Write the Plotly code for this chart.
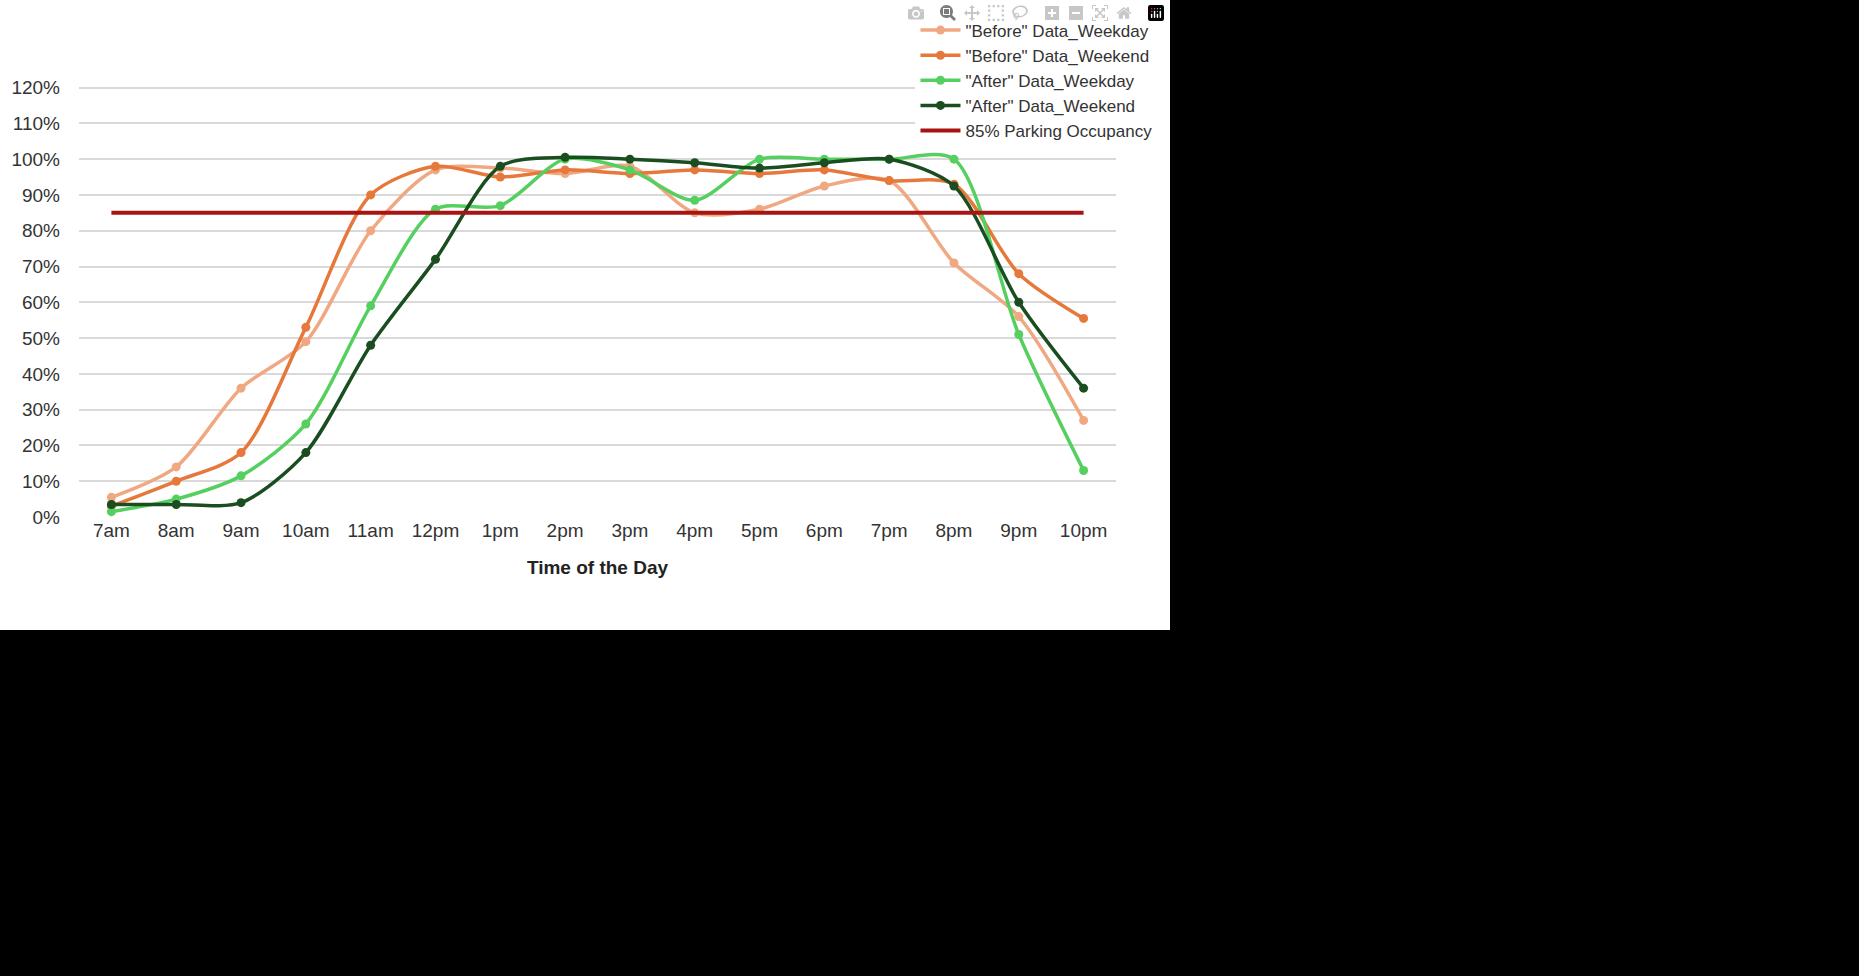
import plotly.graph_objects as go

hours = ["7am","8am","9am","10am","11am","12pm","1pm","2pm","3pm","4pm","5pm","6pm","7pm","8pm","9pm","10pm"]
before_weekday = [5.5,14,36,49,80,97,97.5,96,98,85,86,92.5,94,71,56,27]
before_weekend = [3,10,18,53,90,98,95,97,96,97,96,97,94,93,68,55.5]
after_weekday = [1.5,5,11.5,26,59,86,87,100,97,88.5,100,100,100,100,51,13]
after_weekend = [3.5,3.5,4,18,48,72,98,100.5,100,99,97.5,99,100,92.5,60,36]
threshold = [85]*len(hours)

series = [
    ('"Before" Data_Weekday', before_weekday, "#f0a882"),
    ('"Before" Data_Weekend', before_weekend, "#e5783a"),
    ('"After" Data_Weekday', after_weekday, "#55d060"),
    ('"After" Data_Weekend', after_weekend, "#1a4d1f"),
]
fig = go.Figure()
for name, vals, col in series:
    fig.add_trace(go.Scatter(x=hours, y=vals, name=name, mode="lines+markers",
                             line=dict(color=col, width=3.5, shape="spline", smoothing=0.8),
                             marker=dict(size=9, color=col)))
fig.add_trace(go.Scatter(x=hours, y=threshold, name="85% Parking Occupancy", mode="lines",
                         line=dict(color="#a81414", width=4)))

fig.update_layout(
    width=1170, height=630, paper_bgcolor="white", plot_bgcolor="white",
    margin=dict(l=79, r=52, t=76, b=113),
    font=dict(family="Liberation Sans, Arial, sans-serif", size=19, color="#333"),
    showlegend=True,
    legend=dict(x=1.04, xanchor="right", y=1.165, yanchor="top", bgcolor="white",
                font=dict(size=17, color="#333"), tracegroupgap=0, itemwidth=40),
    xaxis=dict(type="category", range=[-0.5, 15.5], showgrid=False, showline=False,
               ticks="", title=dict(text="<b>Time of the Day</b>", font=dict(size=19, color="#222"), standoff=20)),
    yaxis=dict(range=[0, 121], tickvals=list(range(0, 121, 10)),
               ticktext=[f"{v}%" for v in range(0, 121, 10)], gridcolor="#d9d9d9",
               gridwidth=1.5, zeroline=False, showline=False, ticks="", ticklabelstandoff=18),
)
fig.update_yaxes(automargin=False)
fig.update_xaxes(automargin=False)
fig.write_html("out.html", post_script="document.body.style.background='black';document.body.style.margin='0';")
